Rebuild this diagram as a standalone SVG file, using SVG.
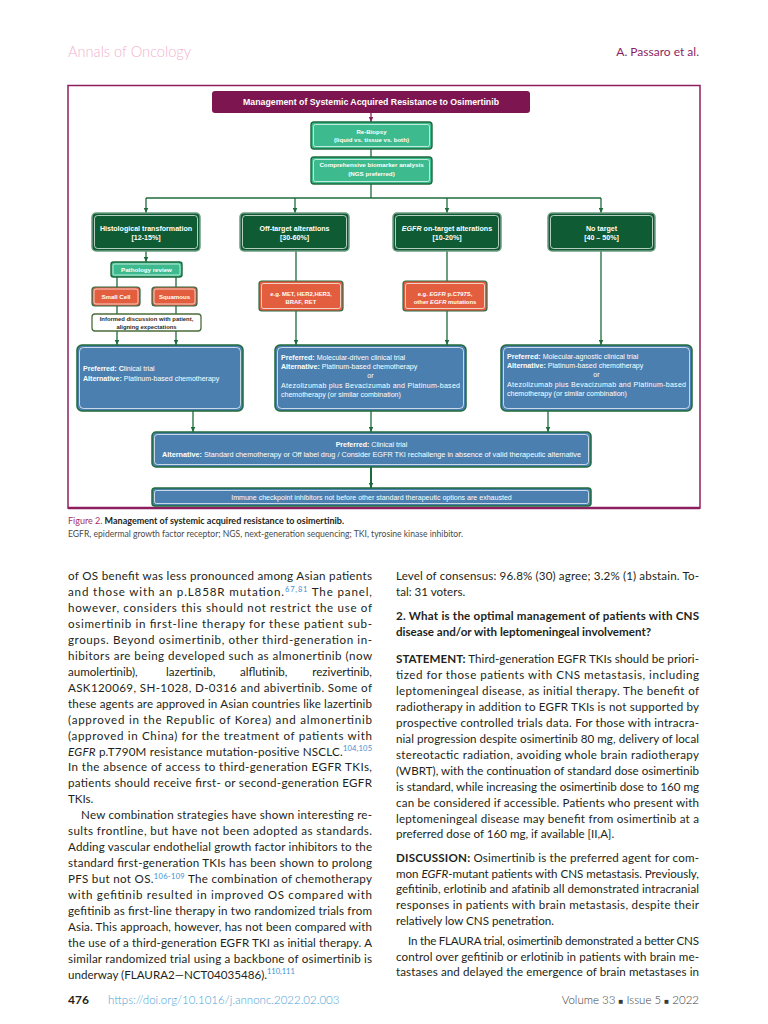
<svg xmlns="http://www.w3.org/2000/svg" width="768" height="1024" viewBox="0 0 768 1024">
<defs>
<style>
.d{font-family:"Liberation Sans",Arial,sans-serif}
.wt{fill:#fff;font-weight:bold;text-anchor:middle}
.bt{fill:#fff;font-size:7.05px}
.b{font-weight:bold}
.body{font-family:Lato,"Open Sans",sans-serif;font-size:11.6px;fill:#231f20}
.sup{font-size:7.5px;fill:#3a8fd0}
.teal{fill:#3dbb8e;stroke:#1c6a3c;stroke-width:1.4}
.dg{fill:#0f5b33;stroke:#6d9c82;stroke-width:1.5}
.coral{fill:#e35d3f;stroke:#2b6b44;stroke-width:1.2}
.blue{fill:#4a7fb0;stroke:#1f6b3a;stroke-width:1.5}
.inner{fill:none;stroke:#fff;stroke-width:0.7}
.cn line{stroke:#1d6a3a;stroke-width:1.3}
</style>
<marker id="ah" viewBox="0 0 10 10" refX="10" refY="5" markerWidth="5" markerHeight="5" markerUnits="userSpaceOnUse" orient="auto"><path d="M0,0.5 L10,5 L0,9.5 z" fill="#1d6a3a"/></marker>
<marker id="ahm" viewBox="0 0 10 10" refX="10" refY="5" markerWidth="5" markerHeight="5" markerUnits="userSpaceOnUse" orient="auto"><path d="M0,0.5 L10,5 L0,9.5 z" fill="#8e1f5f"/></marker>
</defs>
<rect width="768" height="1024" fill="#fff"/>

<!-- page header -->
<text x="68" y="57" font-family="Lato,'Open Sans',sans-serif" font-weight="300" font-size="14.6" fill="#f2b2cf">Annals of Oncology</text>
<text x="699" y="56" text-anchor="end" font-family="Lato,'Open Sans',sans-serif" font-size="12" fill="#8e1f5f">A. Passaro et al.</text>

<!-- figure frame -->
<rect x="68" y="85.5" width="632" height="422.5" fill="none" stroke="#8e1f5f" stroke-width="1.5"/>
<line x1="68" y1="508" x2="700" y2="508" stroke="#8e1f5f" stroke-width="2.5"/>

<g class="d">
<g id="connectors" class="cn">
<line x1="371" y1="113" x2="371" y2="122" style="stroke:#8e1f5f" marker-end="url(#ahm)"/>
<line x1="371" y1="149" x2="371" y2="157"/>
<line x1="371" y1="184" x2="371" y2="198"/>
<line x1="146" y1="198" x2="601" y2="198"/>
<line x1="146" y1="198" x2="146" y2="213" marker-end="url(#ah)"/>
<line x1="295" y1="198" x2="295" y2="213" marker-end="url(#ah)"/>
<line x1="447" y1="198" x2="447" y2="213" marker-end="url(#ah)"/>
<line x1="601" y1="198" x2="601" y2="213" marker-end="url(#ah)"/>
<line x1="146" y1="251" x2="146" y2="262" marker-end="url(#ah)"/>
<line x1="117" y1="277" x2="117" y2="287"/>
<line x1="176" y1="277" x2="176" y2="287"/>
<line x1="117" y1="306" x2="117" y2="314"/>
<line x1="176" y1="306" x2="176" y2="314"/>
<line x1="117" y1="331" x2="117" y2="345" marker-end="url(#ah)"/>
<line x1="176" y1="331" x2="176" y2="345" marker-end="url(#ah)"/>
<line x1="296" y1="251" x2="296" y2="281"/>
<line x1="296" y1="311" x2="296" y2="345" marker-end="url(#ah)"/>
<line x1="447" y1="251" x2="447" y2="281"/>
<line x1="447" y1="311" x2="447" y2="345" marker-end="url(#ah)"/>
<line x1="601" y1="251" x2="601" y2="345" marker-end="url(#ah)"/>
<line x1="193" y1="411" x2="193" y2="432" marker-end="url(#ah)"/>
<line x1="371" y1="411" x2="371" y2="432" marker-end="url(#ah)"/>
<line x1="548" y1="411" x2="548" y2="432" marker-end="url(#ah)"/>
<line x1="371" y1="467" x2="371" y2="488" style="stroke-width:2" marker-end="url(#ah)"/>
</g>

<g id="title">
<rect x="212" y="91" width="318" height="22" rx="3" fill="#7d1650"/>
<text x="371" y="105" class="wt" font-size="8.3" textLength="256" lengthAdjust="spacingAndGlyphs">Management of Systemic Acquired Resistance to Osimertinib</text>
</g>

<g id="rebiopsy">
<rect x="311" y="122" width="121" height="27" rx="3" class="teal"/>
<rect x="313.5" y="124.5" width="116" height="22" rx="2" class="inner"/>
<text x="371.5" y="134" class="wt" font-size="6.1">Re-Biopsy</text>
<text x="371.5" y="142" class="wt" font-size="6.1">(liquid vs. tissue vs. both)</text>
</g>

<g id="biomarker">
<rect x="311" y="157" width="121" height="27" rx="3" class="teal"/>
<rect x="313.5" y="159.5" width="116" height="22" rx="2" class="inner"/>
<text x="371.5" y="167" class="wt" font-size="6.2">Comprehensive biomarker analysis</text>
<text x="371.5" y="176" class="wt" font-size="6.2">(NGS preferred)</text>
</g>

<g id="histological">
<rect x="92" y="213" width="108" height="38" rx="4" class="dg"/>
<rect x="94.5" y="215.5" width="103" height="33" rx="3" class="inner"/>
<text x="146" y="231" class="wt" font-size="7.1">Histological transformation</text>
<text x="146" y="240" class="wt" font-size="7.1">[12-15%]</text>
</g>

<g id="offtarget">
<rect x="240" y="213" width="109" height="38" rx="4" class="dg"/>
<rect x="242.5" y="215.5" width="104" height="33" rx="3" class="inner"/>
<text x="294.5" y="231" class="wt" font-size="7.1">Off-target alterations</text>
<text x="294.5" y="240" class="wt" font-size="7.1">[30-60%]</text>
</g>

<g id="ontarget">
<rect x="393" y="213" width="108" height="38" rx="4" class="dg"/>
<rect x="395.5" y="215.5" width="103" height="33" rx="3" class="inner"/>
<text x="447" y="231" class="wt" font-size="7.1"><tspan font-style="italic">EGFR</tspan> on-target alterations</text>
<text x="447" y="240" class="wt" font-size="7.1">[10-20%]</text>
</g>

<g id="notarget">
<rect x="548" y="213" width="107" height="38" rx="4" class="dg"/>
<rect x="550.5" y="215.5" width="102" height="33" rx="3" class="inner"/>
<text x="601.5" y="231" class="wt" font-size="7.1">No target</text>
<text x="601.5" y="240" class="wt" font-size="7.1">[40 – 50%]</text>
</g>

<g id="pathology">
<rect x="111" y="262" width="71" height="15" rx="2.5" class="teal"/>
<rect x="113" y="264" width="67" height="11" rx="1.5" class="inner"/>
<text x="146.5" y="272.3" class="wt" font-size="6.2">Pathology review</text>
</g>

<g id="smallcell">
<rect x="92" y="287" width="48" height="19" rx="3" class="coral"/>
<rect x="94" y="289" width="44" height="15" rx="2" class="inner"/>
<text x="116" y="298.8" class="wt" font-size="6.1">Small Cell</text>
</g>

<g id="squamous">
<rect x="152" y="287" width="45" height="19" rx="3" class="coral"/>
<rect x="154" y="289" width="41" height="15" rx="2" class="inner"/>
<text x="174.5" y="298.8" class="wt" font-size="6.1">Squamous</text>
</g>

<g id="informed">
<rect x="92" y="314" width="109" height="17" rx="3" fill="#fff" stroke="#4a6e3a" stroke-width="1.3"/>
<text x="146.5" y="321.2" text-anchor="middle" font-weight="bold" font-size="5.9" fill="#2b2b2b">Informed discussion with patient,</text>
<text x="146.5" y="328.7" text-anchor="middle" font-weight="bold" font-size="5.9" fill="#2b2b2b">aligning expectations</text>
</g>

<g id="offtarget-examples">
<rect x="259" y="281" width="84" height="30" rx="3" class="coral"/>
<rect x="261.5" y="283.5" width="79" height="25" rx="2" class="inner"/>
<text x="301" y="295.5" class="wt" font-size="5.9">e.g. MET, HER2,HER3,</text>
<text x="301" y="303.5" class="wt" font-size="5.9">BRAF, RET</text>
</g>

<g id="ontarget-examples">
<rect x="403" y="281" width="84" height="30" rx="3" class="coral"/>
<rect x="405.5" y="283.5" width="79" height="25" rx="2" class="inner"/>
<text x="445" y="295.5" class="wt" font-size="5.9">e.g. <tspan font-style="italic">EGFR</tspan> p.C797S,</text>
<text x="445" y="303.5" class="wt" font-size="5.9">other <tspan font-style="italic">EGFR</tspan> mutations</text>
</g>

<g id="histo-treatment">
<rect x="77" y="345" width="166" height="66" rx="5" class="blue"/>
<rect x="79.5" y="347.5" width="161" height="61" rx="4" class="inner"/>
<text x="83" y="371" class="bt"><tspan class="b">Preferred: C</tspan>linical trial</text>
<text x="83" y="380.5" class="bt"><tspan class="b">Alternative:</tspan> Platinum-based chemotherapy</text>
</g>

<g id="offtarget-treatment">
<rect x="275" y="345" width="191" height="66" rx="5" class="blue"/>
<rect x="277.5" y="347.5" width="186" height="61" rx="4" class="inner"/>
<text x="281" y="360" class="bt"><tspan class="b">Preferred:</tspan> Molecular-driven clinical trial</text>
<text x="281" y="369" class="bt"><tspan class="b">Alternative:</tspan> Platinum-based chemotherapy</text>
<text x="370.5" y="378" class="bt" text-anchor="middle">or</text>
<text x="281" y="388" class="bt" textLength="179" lengthAdjust="spacing">Atezolizumab plus Bevacizumab and Platinum-based</text>
<text x="281" y="397" class="bt">chemotherapy (or similar combination)</text>
</g>

<g id="notarget-treatment">
<rect x="501" y="345" width="191" height="66" rx="5" class="blue"/>
<rect x="503.5" y="347.5" width="186" height="61" rx="4" class="inner"/>
<text x="507" y="359" class="bt"><tspan class="b">Preferred:</tspan> Molecular-agnostic clinical trial</text>
<text x="507" y="368" class="bt"><tspan class="b">Alternative:</tspan> Platinum-based chemotherapy</text>
<text x="596.5" y="377" class="bt" text-anchor="middle">or</text>
<text x="507" y="387" class="bt" textLength="179" lengthAdjust="spacing">Atezolizumab plus Bevacizumab and Platinum-based</text>
<text x="507" y="396" class="bt">chemotherapy (or similar combination)</text>
</g>

<g id="common-treatment">
<rect x="152" y="432" width="439" height="35" rx="4" class="blue"/>
<rect x="154.5" y="434.5" width="434" height="30" rx="3" class="inner"/>
<text x="371.5" y="447" class="bt" text-anchor="middle"><tspan class="b">Preferred:</tspan> Clinical trial</text>
<text x="371.5" y="456.5" class="bt" text-anchor="middle" textLength="419" lengthAdjust="spacingAndGlyphs"><tspan class="b">Alternative:</tspan> Standard chemotherapy or Off label drug / Consider EGFR TKI rechallenge in absence of valid therapeutic alternative</text>
</g>

<g id="immune">
<rect x="152" y="488" width="439" height="18" rx="3" class="blue"/>
<rect x="154.5" y="490.5" width="434" height="13" rx="2" class="inner"/>
<text x="371.5" y="499.5" class="bt" text-anchor="middle">Immune checkpoint inhibitors not before other standard therapeutic options are exhausted</text>
</g>
</g>

<!-- caption -->
<text x="68" y="524" font-family="Lato,'Open Sans',sans-serif" font-size="9" font-weight="bold" fill="#231f20"><tspan fill="#a3306c" font-weight="normal">Figure 2.</tspan> Management of systemic acquired resistance to osimertinib.</text>
<text x="68" y="536.5" font-family="Lato,'Open Sans',sans-serif" font-size="8.6" fill="#4a4a4a">EGFR, epidermal growth factor receptor; NGS, next-generation sequencing; TKI, tyrosine kinase inhibitor.</text>

<!-- body left column -->
<g class="body">
<text x="68" y="580" textLength="304" lengthAdjust="spacing">of OS benefit was less pronounced among Asian patients</text>
<text x="68" y="596" textLength="304" lengthAdjust="spacing">and those with an p.L858R mutation.<tspan class="sup" dy="-4.5">67,81</tspan><tspan dy="4.5"> The panel,</tspan></text>
<text x="68" y="611.9" textLength="304" lengthAdjust="spacing">however, considers this should not restrict the use of</text>
<text x="68" y="627.9" textLength="304" lengthAdjust="spacing">osimertinib in first-line therapy for these patient sub-</text>
<text x="68" y="643.8" textLength="304" lengthAdjust="spacing">groups. Beyond osimertinib, other third-generation in-</text>
<text x="68" y="659.8" textLength="304" lengthAdjust="spacing">hibitors are being developed such as almonertinib (now</text>
<text x="68" y="675.7">aumolertinib),</text>
<text x="166" y="675.7">lazertinib,</text>
<text x="240" y="675.7">alflutinib,</text>
<text x="372" y="675.7" text-anchor="end">rezivertinib,</text>
<text x="68" y="691.7" textLength="304" lengthAdjust="spacing">ASK120069, SH-1028, D-0316 and abivertinib. Some of</text>
<text x="68" y="707.6" textLength="304" lengthAdjust="spacing">these agents are approved in Asian countries like lazertinib</text>
<text x="68" y="723.6" textLength="304" lengthAdjust="spacing">(approved in the Republic of Korea) and almonertinib</text>
<text x="68" y="739.5" textLength="304" lengthAdjust="spacing">(approved in China) for the treatment of patients with</text>
<text x="68" y="755.5" textLength="304" lengthAdjust="spacing"><tspan font-style="italic">EGFR</tspan> p.T790M resistance mutation-positive NSCLC.<tspan class="sup" dy="-4.5">104,105</tspan></text>
<text x="68" y="771.4" textLength="304" lengthAdjust="spacing">In the absence of access to third-generation EGFR TKIs,</text>
<text x="68" y="787.4" textLength="304" lengthAdjust="spacing">patients should receive first- or second-generation EGFR</text>
<text x="68" y="803.3">TKIs.</text>
<text x="81" y="819.3" textLength="291" lengthAdjust="spacing">New combination strategies have shown interesting re-</text>
<text x="68" y="835.2" textLength="304" lengthAdjust="spacing">sults frontline, but have not been adopted as standards.</text>
<text x="68" y="851.2" textLength="304" lengthAdjust="spacing">Adding vascular endothelial growth factor inhibitors to the</text>
<text x="68" y="867.1" textLength="304" lengthAdjust="spacing">standard first-generation TKIs has been shown to prolong</text>
<text x="68" y="883.1" textLength="304" lengthAdjust="spacing">PFS but not OS.<tspan class="sup" dy="-4.5">106-109</tspan><tspan dy="4.5"> The combination of chemotherapy</tspan></text>
<text x="68" y="899" textLength="304" lengthAdjust="spacing">with gefitinib resulted in improved OS compared with</text>
<text x="68" y="915" textLength="304" lengthAdjust="spacing">gefitinib as first-line therapy in two randomized trials from</text>
<text x="68" y="930.9" textLength="304" lengthAdjust="spacing">Asia. This approach, however, has not been compared with</text>
<text x="68" y="946.9" textLength="304" lengthAdjust="spacing">the use of a third-generation EGFR TKI as initial therapy. A</text>
<text x="68" y="962.8" textLength="304" lengthAdjust="spacing">similar randomized trial using a backbone of osimertinib is</text>
<text x="68" y="978.8">underway (FLAURA2—NCT04035486).<tspan class="sup" dy="-4.5">110,111</tspan></text>
</g>

<!-- body right column -->
<g class="body">
<text x="396" y="580" textLength="303" lengthAdjust="spacing">Level of consensus: 96.8% (30) agree; 3.2% (1) abstain. To-</text>
<text x="396" y="596">tal: 31 voters.</text>
<text x="396" y="620" font-weight="bold" textLength="303" lengthAdjust="spacing">2. What is the optimal management of patients with CNS</text>
<text x="396" y="636" font-weight="bold">disease and/or with leptomeningeal involvement?</text>
<text x="396" y="663" textLength="303" lengthAdjust="spacing"><tspan font-weight="bold">STATEMENT:</tspan> Third-generation EGFR TKIs should be priori-</text>
<text x="396" y="678.9" textLength="303" lengthAdjust="spacing">tized for those patients with CNS metastasis, including</text>
<text x="396" y="694.9" textLength="303" lengthAdjust="spacing">leptomeningeal disease, as initial therapy. The benefit of</text>
<text x="396" y="710.8" textLength="303" lengthAdjust="spacing">radiotherapy in addition to EGFR TKIs is not supported by</text>
<text x="396" y="726.8" textLength="303" lengthAdjust="spacing">prospective controlled trials data. For those with intracra-</text>
<text x="396" y="742.7" textLength="303" lengthAdjust="spacing">nial progression despite osimertinib 80 mg, delivery of local</text>
<text x="396" y="758.7" textLength="303" lengthAdjust="spacing">stereotactic radiation, avoiding whole brain radiotherapy</text>
<text x="396" y="774.6" textLength="303" lengthAdjust="spacing">(WBRT), with the continuation of standard dose osimertinib</text>
<text x="396" y="790.6" textLength="303" lengthAdjust="spacing">is standard, while increasing the osimertinib dose to 160 mg</text>
<text x="396" y="806.5" textLength="303" lengthAdjust="spacing">can be considered if accessible. Patients who present with</text>
<text x="396" y="822.5" textLength="303" lengthAdjust="spacing">leptomeningeal disease may benefit from osimertinib at a</text>
<text x="396" y="838.4">preferred dose of 160 mg, if available [II,A].</text>
<text x="396" y="861.5" textLength="303" lengthAdjust="spacing"><tspan font-weight="bold">DISCUSSION:</tspan> Osimertinib is the preferred agent for com-</text>
<text x="396" y="877.5" textLength="303" lengthAdjust="spacing">mon <tspan font-style="italic">EGFR</tspan>-mutant patients with CNS metastasis. Previously,</text>
<text x="396" y="893.4" textLength="303" lengthAdjust="spacing">gefitinib, erlotinib and afatinib all demonstrated intracranial</text>
<text x="396" y="909.4" textLength="303" lengthAdjust="spacing">responses in patients with brain metastasis, despite their</text>
<text x="396" y="925.3">relatively low CNS penetration.</text>
<text x="408" y="944.5" textLength="291" lengthAdjust="spacing">In the FLAURA trial, osimertinib demonstrated a better CNS</text>
<text x="396" y="960.5" textLength="303" lengthAdjust="spacing">control over gefitinib or erlotinib in patients with brain me-</text>
<text x="396" y="976.4" textLength="303" lengthAdjust="spacing">tastases and delayed the emergence of brain metastases in</text>
</g>

<!-- footer -->
<text x="68" y="1004" font-family="Lato,'Open Sans',sans-serif" font-size="12" font-weight="bold" fill="#231f20">476</text>
<text x="108" y="1004" font-family="Lato,'Open Sans',sans-serif" font-size="11.5" font-weight="300" fill="#4a9fd8">https://doi.org/10.1016/j.annonc.2022.02.003</text>
<text x="699" y="1004" text-anchor="end" font-family="Lato,'Open Sans',sans-serif" font-size="11.5" font-weight="300" fill="#3a3a3a">Volume 33 <tspan font-size="8">■</tspan> Issue 5 <tspan font-size="8">■</tspan> 2022</text>
</svg>
